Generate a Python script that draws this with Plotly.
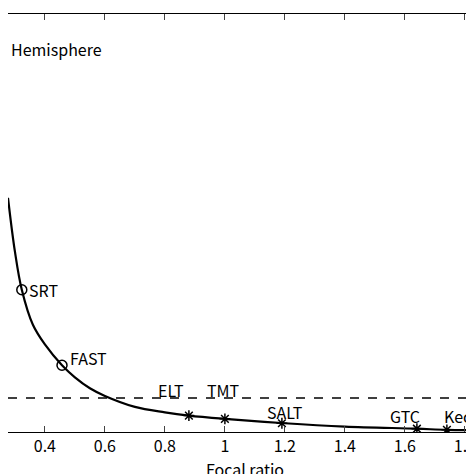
import plotly.graph_objects as go

curve_f = [0.277, 0.30, 0.323, 0.36, 0.40, 0.457, 0.50, 0.55, 0.60, 0.70, 0.80, 0.88, 1.0, 1.2, 1.4, 1.64, 1.74, 1.86]
curve_h = [2.14, 1.65, 1.30, 0.98, 0.80, 0.61, 0.50, 0.40, 0.33, 0.23, 0.18, 0.15, 0.12, 0.08, 0.05, 0.03, 0.02, 0.015]

circ_names = ["SRT", "FAST"]
circ_f = [0.323, 0.457]
circ_h = [1.30, 0.61]

star_names = ["ELT", "TMT", "SALT", "GTC", "Keck"]
star_f = [0.88, 1.0, 1.19, 1.64, 1.74]
star_h = [0.15, 0.12, 0.08, 0.03, 0.02]

dashed_level = 0.31
tick_vals = [0.4, 0.6, 0.8, 1.0, 1.2, 1.4, 1.6, 1.8]
tick_text = ["0.4", "0.6", "0.8", "1", "1.2", "1.4", "1.6", "1.8"]

fig = go.Figure()
fig.add_trace(go.Scatter(x=curve_f, y=curve_h, mode="lines", line=dict(color="black", width=2.2, shape="spline", smoothing=1.0)))
fig.add_trace(go.Scatter(x=[0.277, 1.86], y=[dashed_level]*2, mode="lines", line=dict(color="black", width=1.5, dash="dash")))
fig.add_trace(go.Scatter(x=circ_f, y=circ_h, mode="markers", marker=dict(symbol="circle-open", size=10, color="black", line=dict(width=1.5))))
fig.add_trace(go.Scatter(x=star_f, y=star_h, mode="markers", marker=dict(symbol="asterisk-open", size=9, color="black", line=dict(width=1.5))))

font = dict(family="Noto Sans CJK SC, Noto Sans, sans-serif", size=16, color="black")
labels = [
    ("SRT", 0.340, 1.30, "left"),
    ("FAST", 0.478, 0.68, "left"),
    ("ELT", 0.82, 0.38, "center"),
    ("TMT", 0.995, 0.38, "center"),
    ("SALT", 1.2, 0.18, "center"),
    ("GTC", 1.60, 0.15, "center"),
    ("Keck", 1.725, 0.15, "left"),
]
for t, x, y, a in labels:
    fig.add_annotation(x=x, y=y, text=t, showarrow=False, xanchor=a, font=font)
fig.add_annotation(x=0.28, y=3.5, text="Hemisphere", showarrow=False, xanchor="left", font=font)

fig.update_layout(
    width=474, height=474, margin=dict(l=0, r=0, t=6, b=50, autoexpand=False),
    plot_bgcolor="white", paper_bgcolor="white", showlegend=False,
    xaxis=dict(range=[0.277, 1.857], tickvals=tick_vals, ticktext=tick_text, ticks="inside", ticklen=6,
               showline=True, linecolor="black", linewidth=1, mirror="ticks", showgrid=False, zeroline=False,
               automargin=False, tickfont=font, title=dict(text="Focal ratio", font=font, standoff=2)),
    yaxis=dict(range=[0, 3.82], visible=False, automargin=False),
)
fig.write_html("out.html")
